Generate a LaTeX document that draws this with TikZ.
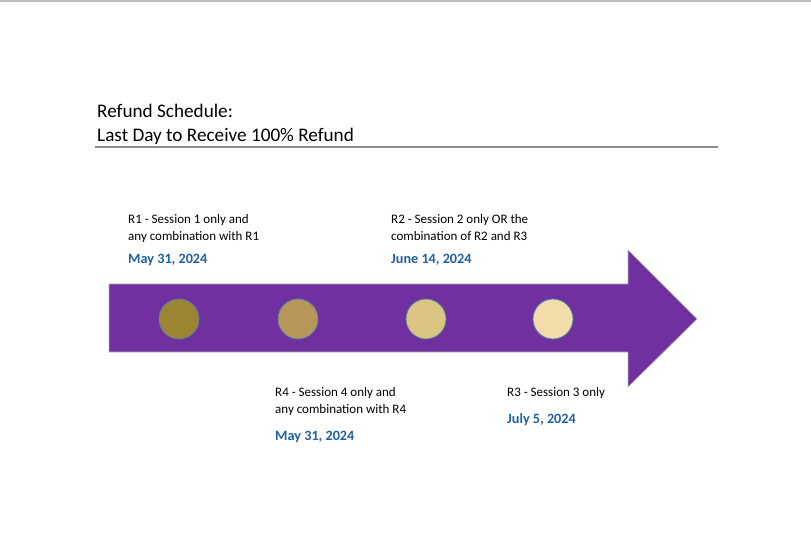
\documentclass[tikz,border=0pt]{standalone}
\usepackage{fontspec}
\setmainfont{Carlito}
\usetikzlibrary{positioning}

\definecolor{arrowpurple}{RGB}{112,48,160}
\definecolor{dateblue}{RGB}{31,96,165}
\definecolor{spotedge}{RGB}{90,130,160}
\definecolor{spotA}{RGB}{155,133,50}
\definecolor{spotB}{RGB}{184,150,90}
\definecolor{spotC}{RGB}{218,198,130}
\definecolor{spotD}{RGB}{242,220,170}

\begin{document}
\begin{tikzpicture}[x=1pt,y=-1pt,
    spot/.style={circle,draw=spotedge,line width=0.8pt,minimum size=40pt,inner sep=0pt},
    note/.style={anchor=base west,align=left,inner sep=0pt,font=\fontsize{13}{17}\selectfont},
    when/.style={anchor=base west,inner sep=0pt,text=dateblue,font=\bfseries\fontsize{14.2}{16}\selectfont},
    head/.style={anchor=base west,align=left,inner sep=0pt,font=\fontsize{19.2}{24}\selectfont}]
  \useasboundingbox (0,0) rectangle (811,537);
  \draw[black!25, line width=1.5pt] (0,1) -- (811,1);

  % title
  \node[head] (title) at (97,142) {Refund Schedule:\\Last Day to Receive 100\% Refund};
  \draw[black!45, line width=1.5pt] (95,147) -- (718,147);

  % arrow
  \filldraw[fill=arrowpurple, draw=black!30, line width=0.6pt]
    (109,284) -- (628,284) -- (628,250) -- (697,319) -- (628,387) -- (628,352) -- (109,352) -- cycle;

  % spots
  \node[spot, fill=spotA] (r1) at (179,319) {};
  \node[spot, fill=spotB] (r4) at (298,319) {};
  \node[spot, fill=spotC] (r2) at (426,319) {};
  \node[spot, fill=spotD] (r3) at (553,319) {};

  % labels
  \node[note] (t1) at (128,240.5) {R1 - Session 1 only and\\any combination with R1};
  \node[when] (d1) at (128,264) {May 31, 2024};
  \node[note] (t2) at (391,240.5) {R2 - Session 2 only OR the\\combination of R2 and R3};
  \node[when] (d2) at (391,264) {June 14, 2024};
  \node[note] (t4) at (275,413.5) {R4 - Session 4 only and\\any combination with R4};
  \node[when] (d4) at (275,440) {May 31, 2024};
  \node[note] (t3) at (507,396.5) {R3 - Session 3 only};
  \node[when] (d3) at (507,423) {July 5, 2024};
\end{tikzpicture}
\end{document}
